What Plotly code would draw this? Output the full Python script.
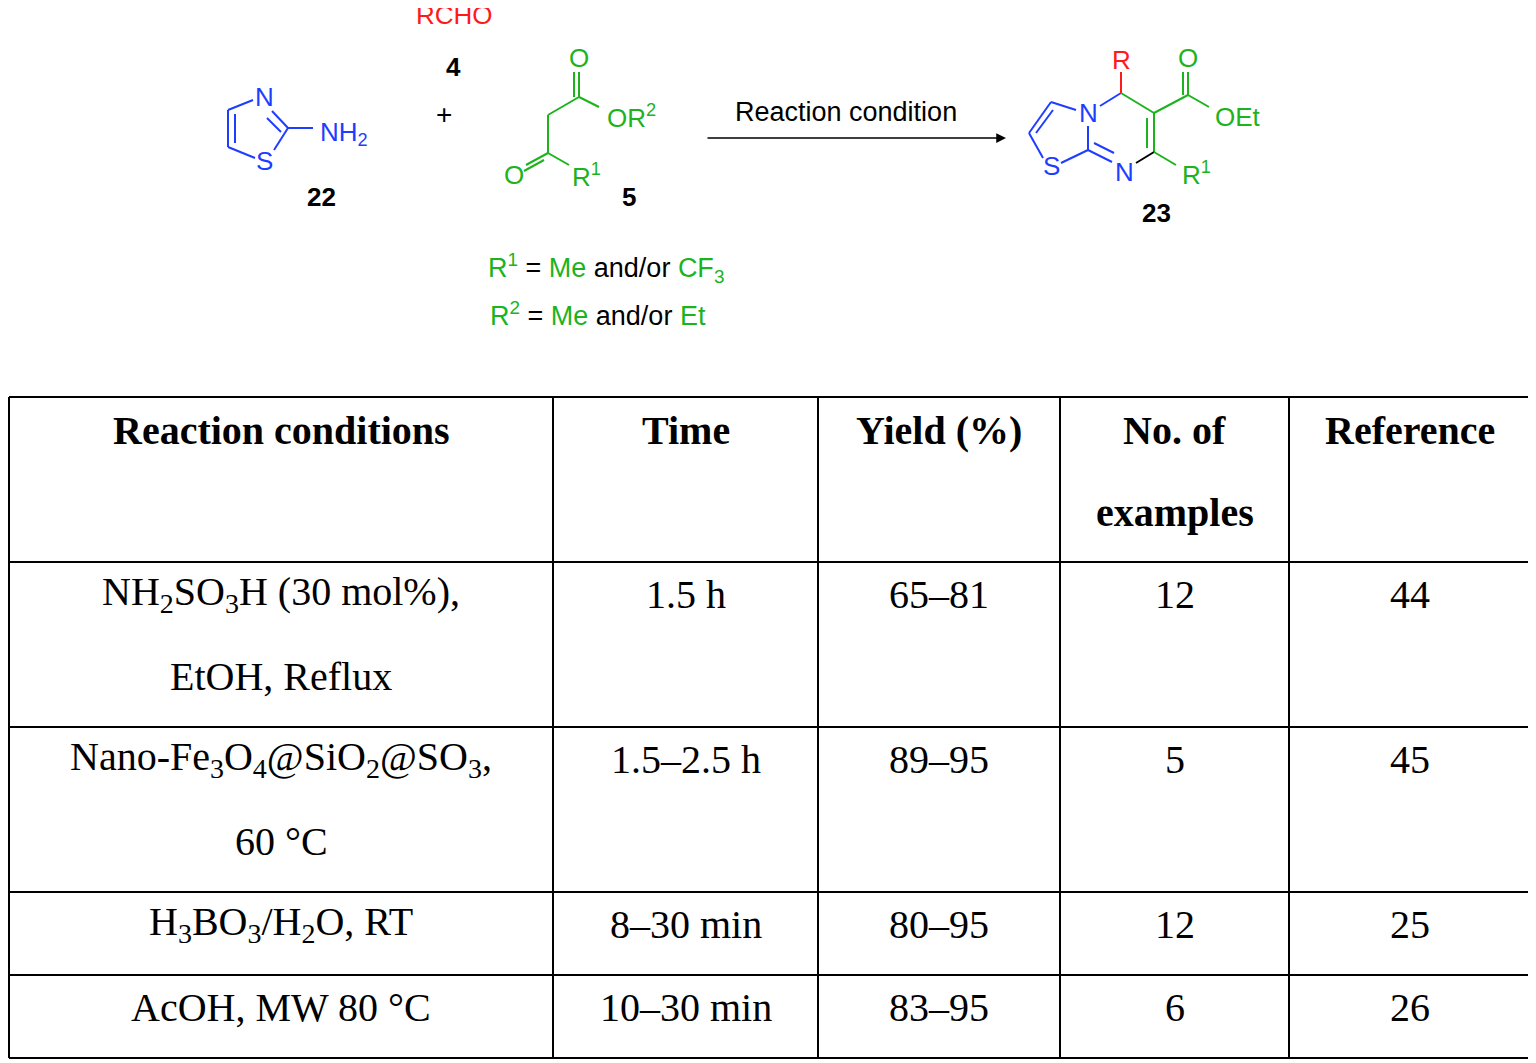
import plotly.graph_objects as go

# table data
headers = [["Reaction conditions"], ["Time"], ["Yield (%)"], ["No. of", "examples"], ["Reference"]]
conditions = [
    ["NH<sub>2</sub>SO<sub>3</sub>H (30 mol%),", "EtOH, Reflux"],
    ["Nano-Fe<sub>3</sub>O<sub>4</sub>@SiO<sub>2</sub>@SO<sub>3</sub>,", "60 °C"],
    ["H<sub>3</sub>BO<sub>3</sub>/H<sub>2</sub>O, RT"],
    ["AcOH, MW 80 °C"],
]
times = ["1.5 h", "1.5–2.5 h", "8–30 min", "10–30 min"]
yields = ["65–81", "89–95", "80–95", "83–95"]
examples = ["12", "5", "12", "6"]
references = ["44", "45", "25", "26"]

col_edges = [8, 552, 817, 1059, 1288, 1529]
row_edges = [397, 562, 727, 892, 975, 1058]

BLUE = "#1f3dff"
GREEN = "#1db31d"
RED = "#ff1a1a"
SERIF = "Liberation Serif"
SANS = "Liberation Sans"

fig = go.Figure()
shapes = []
ann = []


def line(x0, y0, x1, y1, color="black", w=2):
    shapes.append(dict(type="line", x0=x0, y0=y0, x1=x1, y1=y1, xref="x", yref="y",
                       line=dict(color=color, width=w)))


def text(x, y, s, size=26, color="black", font=SANS, bold=False, xanchor="center"):
    if bold:
        s = "<b>" + s + "</b>"
    ann.append(dict(x=x, y=y, xref="x", yref="y", text=s, showarrow=False, xanchor=xanchor,
                    yanchor="middle", font=dict(size=size, color=color, family=font)))


# --- table grid
for x in col_edges:
    line(x, row_edges[0], x, row_edges[-1], w=2)
for y in row_edges:
    line(col_edges[0], y, col_edges[-1], y, w=2)

centers = [(col_edges[i] + col_edges[i + 1]) / 2 for i in range(5)]
for c, h in zip(centers, headers):
    for k, s in enumerate(h):
        text(c, 430 + 82 * k, s, size=40, font=SERIF, bold=True)

columns = [conditions, [[t] for t in times], [[t] for t in yields],
           [[t] for t in examples], [[t] for t in references]]
for ci, col in enumerate(columns):
    for ri, cell in enumerate(col):
        top = row_edges[ri + 1]
        for k, s in enumerate(cell):
            text(centers[ci], top + 32 + 82 * k, s, size=40, font=SERIF)

# --- scheme: 2-aminothiazole 22
line(227, 110, 227, 147, BLUE); line(234, 114, 234, 143, BLUE)
line(227, 110, 252, 100, BLUE)
line(271, 111, 287, 128, BLUE); line(266, 118, 280, 132, BLUE)
line(287, 128, 273, 150, BLUE)
line(254, 158, 227, 147, BLUE)
line(287, 128, 312, 128, BLUE)
text(263, 97, "N", color=BLUE)
text(263, 161, "S", color=BLUE)
text(343, 133, "NH<sub>2</sub>", color=BLUE)
text(320, 197, "22", bold=True)

# aldehyde 4
text(453, 15, "RCHO", color=RED)
text(452, 67, "4", bold=True)
text(443, 114, "+", size=28)

# beta-ketoester 5
line(578, 72, 578, 97, GREEN); line(573, 72, 573, 97, GREEN)
line(578, 97, 598, 107, GREEN)
line(578, 97, 547, 115, GREEN)
line(547, 115, 547, 153, GREEN)
line(547, 153, 525, 165, GREEN); line(543, 160, 523, 171, GREEN)
line(547, 153, 568, 165, GREEN)
text(578, 58, "O", color=GREEN)
text(630, 116, "OR<sup>2</sup>", color=GREEN)
text(513, 175, "O", color=GREEN)
text(585, 175, "R<sup>1</sup>", color=GREEN)
text(628, 197, "5", bold=True)
text(485, 268, "<span style='color:%s'>R<sup>1</sup></span> = <span style='color:%s'>Me</span> and/or "
     "<span style='color:%s'>CF<sub>3</sub></span>" % (GREEN, GREEN, GREEN), size=27, xanchor="left")
text(487, 314, "<span style='color:%s'>R<sup>2</sup></span> = <span style='color:%s'>Me</span> and/or "
     "<span style='color:%s'>Et</span>" % (GREEN, GREEN, GREEN), size=27, xanchor="left")

# arrow
ann.append(dict(x=1005, y=138, ax=705, ay=138, xref="x", yref="y", axref="x", ayref="y",
                text="", showarrow=True, arrowhead=2, arrowsize=1.3, arrowwidth=1.5, arrowcolor="black"))
text(845, 112, "Reaction condition", size=27)

# product 23
line(1050, 102, 1028, 133, BLUE); line(1052, 110, 1035, 133, BLUE)
line(1050, 102, 1075, 110, BLUE)
line(1028, 133, 1042, 158, BLUE)
line(1060, 163, 1087, 150, BLUE)
line(1087, 126, 1087, 150, BLUE)
line(1087, 150, 1111, 162, BLUE); line(1093, 143, 1113, 153, BLUE)
line(1099, 106, 1120, 93, BLUE)
line(1120, 93, 1120, 72, RED)
line(1120, 93, 1153, 113, GREEN)
line(1153, 113, 1153, 152, GREEN); line(1146, 118, 1146, 148, GREEN)
line(1153, 152, 1135, 163, "black")
line(1153, 152, 1175, 165, GREEN)
line(1153, 113, 1187, 95, GREEN)
line(1187, 95, 1187, 72, GREEN); line(1182, 95, 1182, 72, GREEN)
line(1187, 95, 1208, 107, GREEN)
text(1087, 113, "N", color=BLUE)
text(1050, 166, "S", color=BLUE)
text(1123, 172, "N", color=BLUE)
text(1120, 60, "R", color=RED)
text(1187, 58, "O", color=GREEN)
text(1237, 117, "OEt", color=GREEN)
text(1195, 173, "R<sup>1</sup>", color=GREEN)
text(1155, 213, "23", bold=True)

# page body has an 8px margin, so shift the axes to keep pixel coordinates
fig.update_layout(
    width=1522, height=1052, margin=dict(l=0, r=0, t=0, b=0),
    plot_bgcolor="white", paper_bgcolor="white",
    xaxis=dict(range=[7, 1529], visible=False, fixedrange=True),
    yaxis=dict(range=[1060, 8], visible=False, fixedrange=True),
    shapes=shapes, annotations=ann, showlegend=False,
)
fig.write_html("out.html")
